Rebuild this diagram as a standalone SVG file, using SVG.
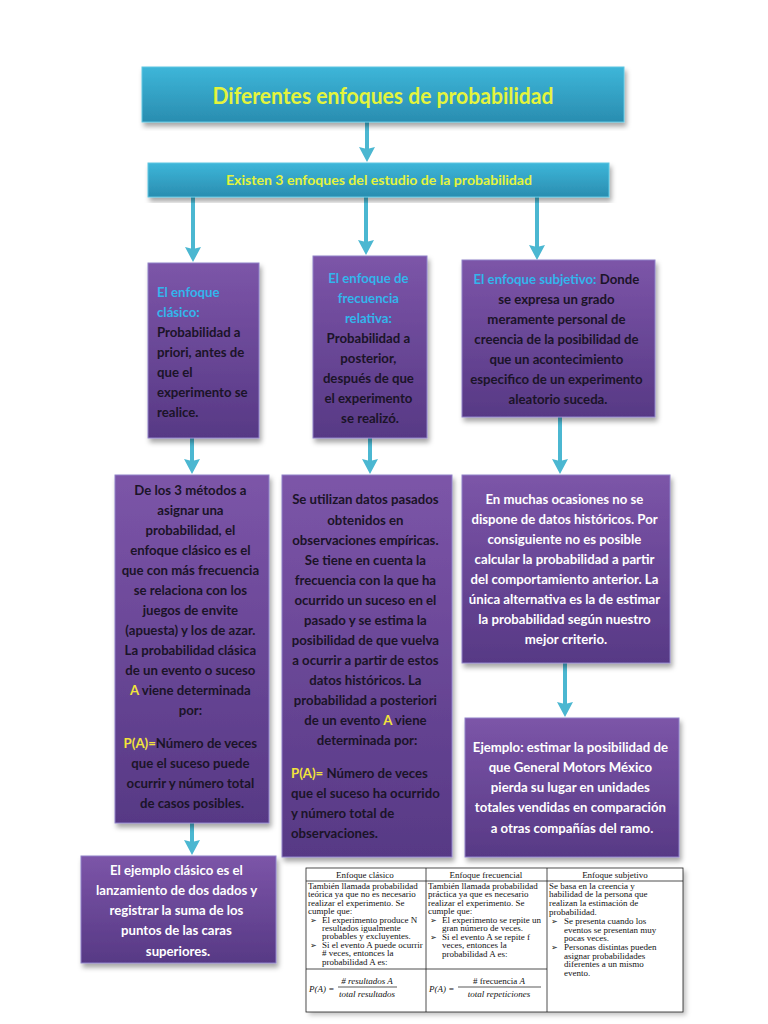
<svg xmlns="http://www.w3.org/2000/svg" width="768" height="1024" viewBox="0 0 768 1024">
<defs>
<linearGradient id="teal" x1="0" y1="0" x2="0" y2="1">
<stop offset="0" stop-color="#3db6d9"/><stop offset="1" stop-color="#2a8db0"/>
</linearGradient>
<linearGradient id="purple" x1="0" y1="0" x2="0" y2="1">
<stop offset="0" stop-color="#7c55a8"/><stop offset="1" stop-color="#573985"/>
</linearGradient>
<filter id="sh" x="-10%" y="-10%" width="125%" height="125%">
<feDropShadow dx="2" dy="4" stdDeviation="2.5" flood-color="#000" flood-opacity="0.35"/>
</filter>
<filter id="tsh" x="-5%" y="-5%" width="115%" height="120%">
<feDropShadow dx="3" dy="3" stdDeviation="2.5" flood-color="#000" flood-opacity="0.25"/>
</filter>
<marker id="ah" markerUnits="userSpaceOnUse" markerWidth="15" markerHeight="16" viewBox="0 0 15 16" refX="9" refY="8" orient="auto">
<path d="M0,0 L15,8 L0,16 L2,8 z" fill="#4bb7d1"/>
</marker>
<style>
.tbox{fill:url(#teal);stroke:#5fc6e2;stroke-width:1;filter:url(#sh)}
.box{fill:url(#purple);stroke:#8f82c8;stroke-width:1;filter:url(#sh)}
.t{font-family:Lato,"Open Sans","Liberation Sans",sans-serif;font-weight:bold;font-size:13.2px}
.c{text-anchor:middle}
.dk{fill:#1b1428}
.wt{fill:#ffffff}
.cy{fill:#33b5ec}
.yl{fill:#f3e43a}
.ttl{fill:#e4f43c}
.conn{stroke:#4bb7d1;stroke-width:4;fill:none;marker-end:url(#ah)}
.tb{font-family:"Liberation Serif","DejaVu Serif",serif;font-size:9px;fill:#111}
.bl{font-family:"DejaVu Sans",sans-serif;font-size:8px;fill:#111}
.grid{stroke:#222;stroke-width:0.8;fill:none}
.it{font-style:italic}
</style>
</defs>
<rect width="768" height="1024" fill="#ffffff"/>

<g id="connectors">
<line class="conn" x1="367" y1="122" x2="367" y2="156"/>
<line class="conn" x1="193" y1="197" x2="193" y2="256"/>
<line class="conn" x1="366" y1="197" x2="366" y2="249"/>
<line class="conn" x1="537" y1="197" x2="537" y2="254"/>
<line class="conn" x1="192" y1="438" x2="192" y2="468"/>
<line class="conn" x1="370" y1="438" x2="370" y2="468"/>
<line class="conn" x1="560" y1="417" x2="560" y2="468"/>
<line class="conn" x1="565" y1="663" x2="565" y2="711"/>
<line class="conn" x1="192" y1="823" x2="192" y2="849"/>
</g>

<g id="title">
<rect class="tbox" x="142" y="67" width="482" height="55"/>
<text class="t c ttl" x="383" y="104" style="font-size:22px" textLength="341" lengthAdjust="spacingAndGlyphs">Diferentes enfoques de probabilidad</text>
</g>

<g id="subtitle">
<rect class="tbox" x="148" y="163" width="461" height="34"/>
<text class="t c ttl" x="379" y="185" style="font-size:13.5px" textLength="306" lengthAdjust="spacingAndGlyphs">Existen 3 enfoques del estudio de la probabilidad</text>
</g>

<g id="clasico">
<rect class="box" x="148" y="263" width="111" height="175"/>
<text class="t">
<tspan class="cy" x="157" y="297">El enfoque</tspan>
<tspan class="cy" x="157" y="317">clásico:</tspan>
<tspan class="dk" x="157" y="337">Probabilidad a</tspan>
<tspan class="dk" x="157" y="357">priori, antes de</tspan>
<tspan class="dk" x="157" y="377">que el</tspan>
<tspan class="dk" x="157" y="397">experimento se</tspan>
<tspan class="dk" x="157" y="417">realice.</tspan>
</text>
</g>

<g id="frecuencia">
<rect class="box" x="313" y="256" width="114" height="182"/>
<text class="t c">
<tspan class="cy" x="370" y="283">El enfoque de</tspan>
<tspan class="cy" x="370" y="303">frecuencia</tspan>
<tspan class="cy" x="370" y="323">relativa:</tspan>
<tspan class="dk" x="370" y="343">Probabilidad a</tspan>
<tspan class="dk" x="370" y="363">posterior,</tspan>
<tspan class="dk" x="370" y="383">después de que</tspan>
<tspan class="dk" x="370" y="403">el experimento</tspan>
<tspan class="dk" x="370" y="423">se realizó.</tspan>
</text>
</g>

<g id="subjetivo">
<rect class="box" x="462" y="260" width="193" height="157"/>
<text class="t c dk">
<tspan x="558" y="284"><tspan class="cy">El enfoque subjetivo:</tspan> Donde</tspan>
<tspan x="558" y="304">se expresa un grado</tspan>
<tspan x="558" y="324">meramente personal de</tspan>
<tspan x="558" y="344">creencia de la posibilidad de</tspan>
<tspan x="558" y="364">que un acontecimiento</tspan>
<tspan x="558" y="384">especifico de un experimento</tspan>
<tspan x="558" y="404">aleatorio suceda.</tspan>
</text>
</g>

<g id="clasico-detalle">
<rect class="box" x="115" y="475" width="154" height="348"/>
<text class="t c dk">
<tspan x="192" y="495">De los 3 métodos a</tspan>
<tspan x="192" y="515">asignar una</tspan>
<tspan x="192" y="535">probabilidad, el</tspan>
<tspan x="192" y="555">enfoque clásico es el</tspan>
<tspan x="192" y="575">que con más frecuencia</tspan>
<tspan x="192" y="595">se relaciona con los</tspan>
<tspan x="192" y="615">juegos de envite</tspan>
<tspan x="192" y="635">(apuesta) y los de azar.</tspan>
<tspan x="192" y="655">La probabilidad clásica</tspan>
<tspan x="192" y="675">de un evento o suceso</tspan>
<tspan x="192" y="695"><tspan class="yl">A</tspan> viene determinada</tspan>
<tspan x="192" y="715">por:</tspan>
<tspan x="192" y="748"><tspan class="yl">P(A)=</tspan>Número de veces</tspan>
<tspan x="192" y="768">que el suceso puede</tspan>
<tspan x="192" y="788">ocurrir y número total</tspan>
<tspan x="192" y="808">de casos posibles.</tspan>
</text>
</g>

<g id="frecuencia-detalle">
<rect class="box" x="282" y="475" width="170" height="382"/>
<text class="t c dk">
<tspan x="367" y="504">Se utilizan datos pasados</tspan>
<tspan x="367" y="525">obtenidos en</tspan>
<tspan x="367" y="545">observaciones empíricas.</tspan>
<tspan x="367" y="565">Se tiene en cuenta la</tspan>
<tspan x="367" y="585">frecuencia con la que ha</tspan>
<tspan x="367" y="605">ocurrido un suceso en el</tspan>
<tspan x="367" y="625">pasado y se estima la</tspan>
<tspan x="367" y="645">posibilidad de que vuelva</tspan>
<tspan x="367" y="665">a ocurrir a partir de estos</tspan>
<tspan x="367" y="685">datos históricos. La</tspan>
<tspan x="367" y="705">probabilidad a posteriori</tspan>
<tspan x="367" y="725">de un evento <tspan class="yl">A</tspan> viene</tspan>
<tspan x="367" y="745">determinada por:</tspan>
</text>
<text class="t dk">
<tspan x="291" y="778"><tspan class="yl">P(A)=</tspan> Número de veces</tspan>
<tspan x="291" y="798">que el suceso ha ocurrido</tspan>
<tspan x="291" y="818">y número total de</tspan>
<tspan x="291" y="838">observaciones.</tspan>
</text>
</g>

<g id="subjetivo-detalle">
<rect class="box" x="462" y="475" width="208" height="188"/>
<text class="t c wt">
<tspan x="566" y="504">En muchas ocasiones no se</tspan>
<tspan x="566" y="524">dispone de datos históricos. Por</tspan>
<tspan x="566" y="544">consiguiente no es posible</tspan>
<tspan x="566" y="564">calcular la probabilidad a partir</tspan>
<tspan x="566" y="584">del comportamiento anterior. La</tspan>
<tspan x="566" y="604">única alternativa es la de estimar</tspan>
<tspan x="566" y="624">la probabilidad según nuestro</tspan>
<tspan x="566" y="644">mejor criterio.</tspan>
</text>
</g>

<g id="ejemplo-subjetivo">
<rect class="box" x="465" y="718" width="214" height="139"/>
<text class="t c wt">
<tspan x="572" y="752">Ejemplo: estimar la posibilidad de</tspan>
<tspan x="572" y="772">que General Motors México</tspan>
<tspan x="572" y="792">pierda su lugar en unidades</tspan>
<tspan x="572" y="812">totales vendidas en comparación</tspan>
<tspan x="572" y="833">a otras compañías del ramo.</tspan>
</text>
</g>

<g id="ejemplo-clasico">
<rect class="box" x="81" y="856" width="195" height="107"/>
<text class="t c wt">
<tspan x="178" y="875">El ejemplo clásico es el</tspan>
<tspan x="178" y="895">lanzamiento de dos dados y</tspan>
<tspan x="178" y="915">registrar la suma de los</tspan>
<tspan x="178" y="935">puntos de las caras</tspan>
<tspan x="178" y="956">superiores.</tspan>
</text>
</g>

<g id="tabla">
<rect x="306" y="868" width="377" height="144" fill="#ffffff" filter="url(#tsh)"/>
<rect class="grid" x="306" y="868" width="377" height="144"/>
<line class="grid" x1="306" y1="881" x2="683" y2="881"/>
<line class="grid" x1="426" y1="868" x2="426" y2="1012"/>
<line class="grid" x1="547" y1="868" x2="547" y2="1012"/>
<line class="grid" x1="306" y1="969" x2="547" y2="969"/>
<text class="tb" text-anchor="middle">
<tspan x="366" y="878">Enfoque clásico</tspan>
<tspan x="487" y="878">Enfoque frecuencial</tspan>
<tspan x="615" y="878">Enfoque subjetivo</tspan>
</text>
<text class="tb">
<tspan x="308" y="889">También llamada probabilidad</tspan>
<tspan x="308" y="897">teórica ya que no es necesario</tspan>
<tspan x="308" y="906">realizar el experimento. Se</tspan>
<tspan x="308" y="914">cumple que:</tspan>
<tspan x="322" y="923">El experimento produce N</tspan>
<tspan x="322" y="931">resultados igualmente</tspan>
<tspan x="322" y="939">probables y excluyentes.</tspan>
<tspan x="322" y="948">Si el evento A puede ocurrir</tspan>
<tspan x="322" y="956"># veces, entonces la</tspan>
<tspan x="322" y="965">probabilidad A es:</tspan>
</text>
<text class="tb">
<tspan x="428" y="889">También llamada probabilidad</tspan>
<tspan x="428" y="897">práctica  ya que es necesario</tspan>
<tspan x="428" y="906">realizar el experimento. Se</tspan>
<tspan x="428" y="914">cumple que:</tspan>
<tspan x="442" y="923">El experimento se repite un</tspan>
<tspan x="442" y="931">gran número de veces.</tspan>
<tspan x="442" y="940">Si el evento A se repite f</tspan>
<tspan x="442" y="948">veces, entonces la</tspan>
<tspan x="442" y="957">probabilidad A es:</tspan>
</text>
<text class="tb">
<tspan x="549" y="889">Se basa en la creencia y</tspan>
<tspan x="549" y="897">habilidad de la persona que</tspan>
<tspan x="549" y="906">realizan la estimación de</tspan>
<tspan x="549" y="915">probabilidad.</tspan>
<tspan x="564" y="924">Se presenta cuando los</tspan>
<tspan x="564" y="933">eventos se presentan muy</tspan>
<tspan x="564" y="941">pocas veces.</tspan>
<tspan x="564" y="950">Personas distintas pueden</tspan>
<tspan x="564" y="959">asignar probabilidades</tspan>
<tspan x="564" y="967">diferentes a un mismo</tspan>
<tspan x="564" y="976">evento.</tspan>
</text>
<text class="bl">
<tspan x="310" y="923">➢</tspan>
<tspan x="310" y="948">➢</tspan>
<tspan x="430" y="923">➢</tspan>
<tspan x="430" y="940">➢</tspan>
<tspan x="551" y="924">➢</tspan>
<tspan x="551" y="950">➢</tspan>
</text>
<text class="tb it" x="309" y="992">P(A) =</text>
<text class="tb it" x="367" y="984" text-anchor="middle">#  resultados  A</text>
<line x1="338" y1="987" x2="397" y2="987" stroke="#111" stroke-width="0.7"/>
<text class="tb it" x="367" y="997" text-anchor="middle">total  resultados</text>
<text class="tb it" x="429" y="992">P(A) =</text>
<text class="tb" x="499" y="984" text-anchor="middle"># frecuencia <tspan class="it">A</tspan></text>
<line x1="458" y1="987" x2="541" y2="987" stroke="#111" stroke-width="0.7"/>
<text class="tb it" x="499" y="997" text-anchor="middle">total  repeticiones</text>
</g>
</svg>
